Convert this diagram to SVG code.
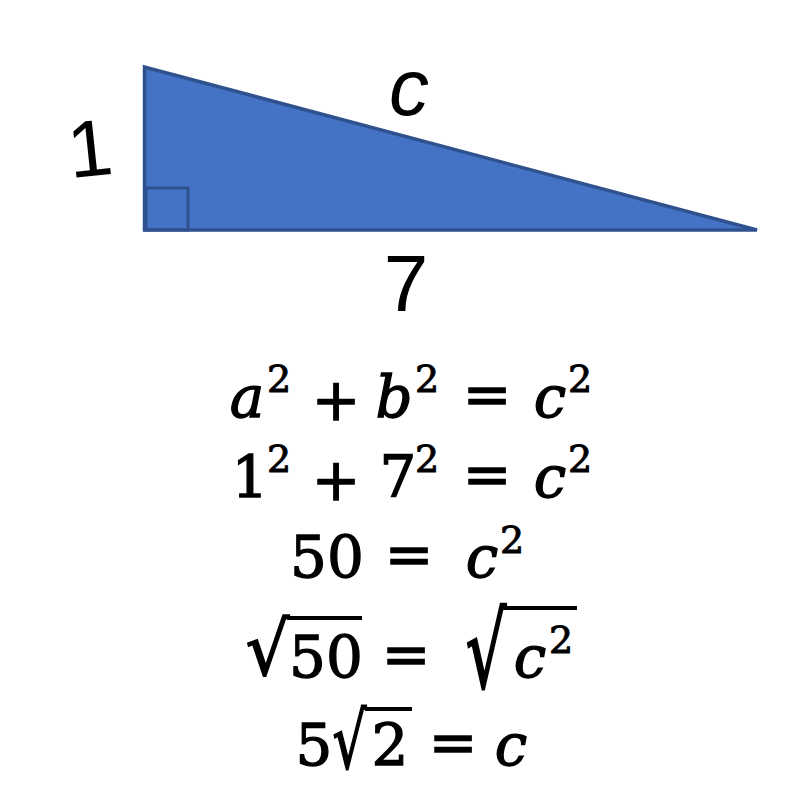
<svg xmlns="http://www.w3.org/2000/svg" width="800" height="812" viewBox="0 0 800 812">
<style>
.hand{font-family:"Liberation Sans","DejaVu Sans",sans-serif;fill:#000;text-anchor:middle}
.m{font-family:"DejaVu Serif","Liberation Serif",serif;font-size:58px;fill:#000;stroke:#000;stroke-width:1.3;text-anchor:middle}
.v{font-style:italic}
.s{font-size:38px;stroke-width:1}
.bar{stroke:#000;stroke-width:4}
</style>
<rect width="800" height="812" fill="#fff"/>
<g id="triangle">
<polygon points="144.5,67 144.5,230 757,230" fill="#4472C4" stroke="#2F528F" stroke-width="3.5" stroke-linejoin="miter"/>
<rect x="146" y="188" width="42" height="42" fill="none" stroke="#2F528F" stroke-width="3"/>
</g>
<g id="labels">
<text class="hand" x="90" y="176" font-size="80" transform="rotate(-6 90 150)">1</text>
<text class="hand" x="409" y="115" font-size="80" font-style="italic">c</text>
<text class="hand" x="406" y="311" font-size="80">7</text>
</g>
<g id="equations">
<g id="eq1">
<text class="m v" x="247" y="417">a</text><text class="m s" x="279" y="392">2</text>
<text class="m" x="336" y="420" font-size="62">+</text>
<text class="m v" x="394" y="417">b</text><text class="m s" x="427" y="392">2</text>
<text class="m" x="487" y="414" font-size="60">=</text>
<text class="m v" x="550" y="417">c</text><text class="m s" x="580" y="392">2</text>
</g>
<g id="eq2">
<text class="m" x="250" y="497">1</text><text class="m s" x="279" y="472">2</text>
<text class="m" x="336" y="500" font-size="62">+</text>
<text class="m" x="398" y="497">7</text><text class="m s" x="427" y="472">2</text>
<text class="m" x="487" y="494" font-size="60">=</text>
<text class="m v" x="550" y="497">c</text><text class="m s" x="580" y="472">2</text>
</g>
<g id="eq3">
<text class="m" x="327" y="577">50</text>
<text class="m" x="409" y="574" font-size="60">=</text>
<text class="m v" x="482" y="577">c</text><text class="m s" x="512" y="553">2</text>
</g>
<g id="eq4">
<text class="m" transform="translate(267.5 674.5) scale(1.18 1.27)">√</text>
<line class="bar" x1="287" y1="618" x2="362" y2="618"/>
<text class="m" x="326" y="677">50</text>
<text class="m" x="406" y="674" font-size="60">=</text>
<text class="m" transform="translate(486 686.7) scale(1.1 1.77)">√</text>
<line class="bar" x1="505" y1="608" x2="577" y2="608"/>
<text class="m v" x="530" y="677">c</text><text class="m s" x="561" y="653">2</text>
</g>
<g id="eq5">
<text class="m" x="314" y="765">5</text>
<text class="m" transform="translate(349.5 768) scale(0.92 1.33)">√</text>
<line class="bar" x1="365" y1="709" x2="412" y2="709"/>
<text class="m" x="390" y="765">2</text>
<text class="m" x="453" y="762" font-size="60">=</text>
<text class="m v" x="511" y="765">c</text>
</g>
</g>
</svg>
